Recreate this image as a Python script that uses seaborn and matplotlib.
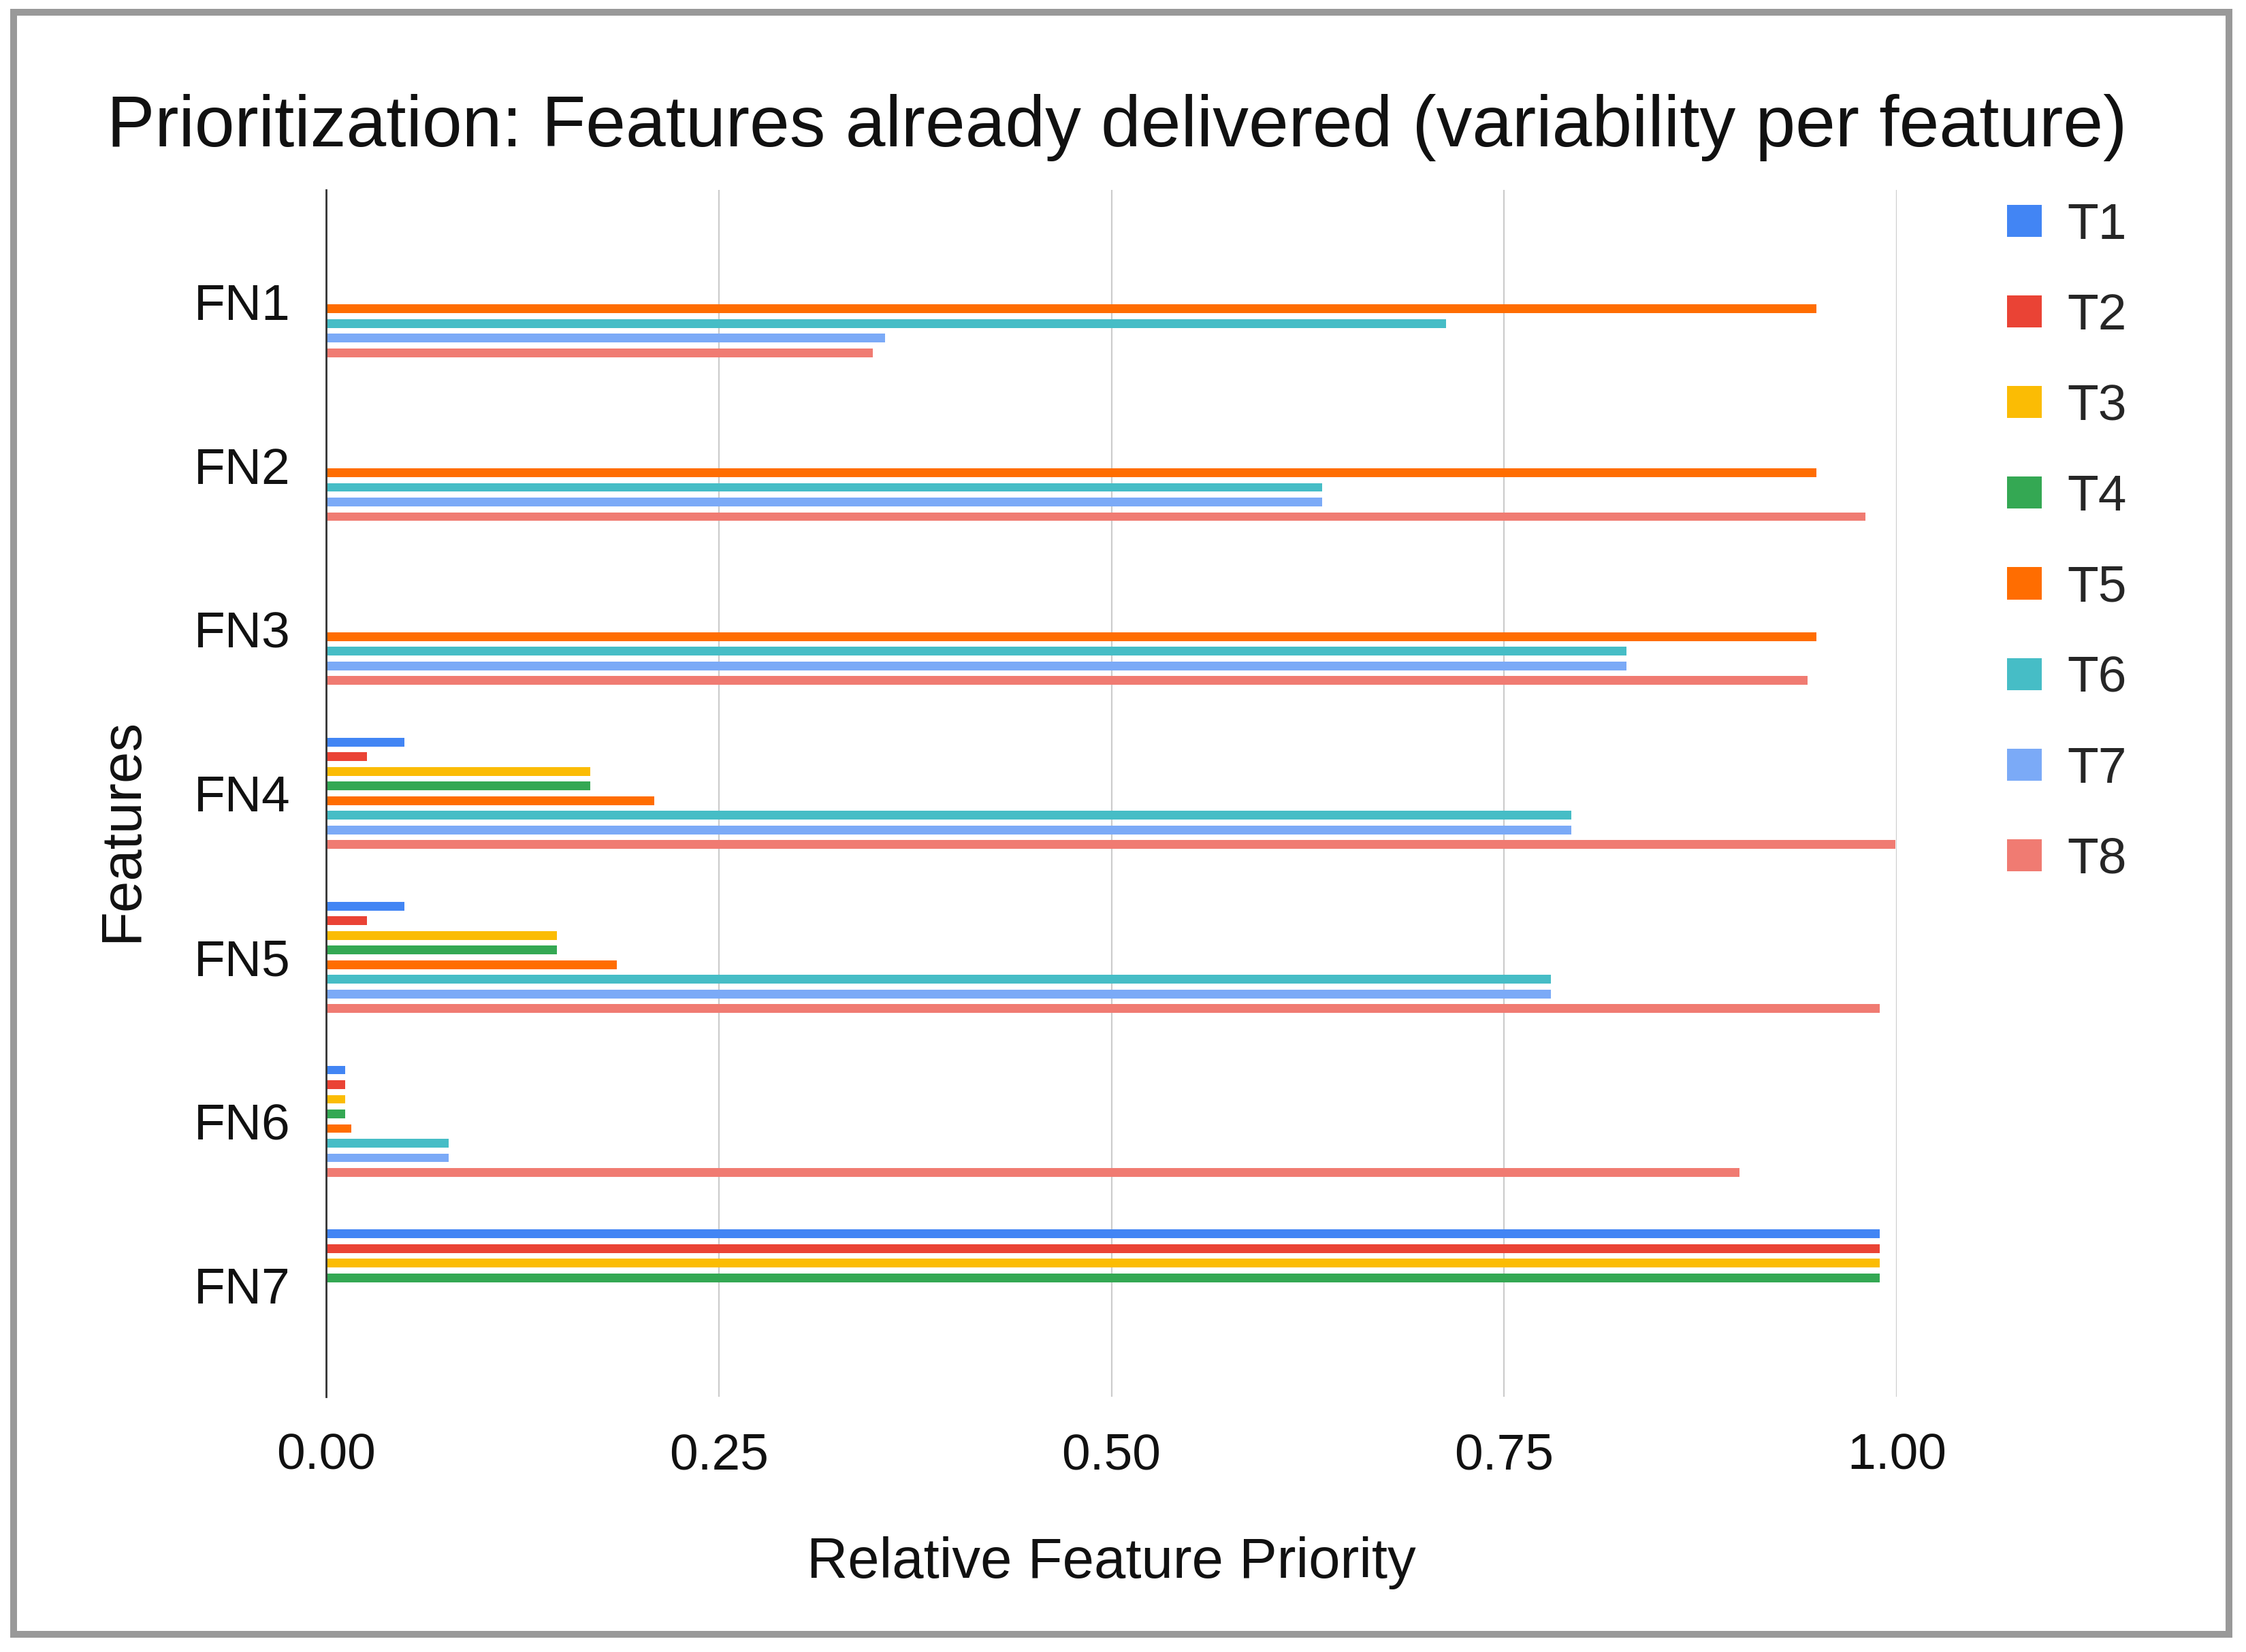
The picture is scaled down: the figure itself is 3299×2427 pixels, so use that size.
import numpy as np
import pandas as pd
import matplotlib
matplotlib.use('Agg')
import matplotlib.pyplot as plt
import seaborn as sns
from matplotlib.patches import Rectangle

nan = np.nan

# Data (empty bars = no value)
features = ['FN1', 'FN2', 'FN3', 'FN4', 'FN5', 'FN6', 'FN7']
teams = ['T1', 'T2', 'T3', 'T4', 'T5', 'T6', 'T7', 'T8']
t1 = [nan, nan, nan, 0.050, 0.050, 0.012, 0.989]
t2 = [nan, nan, nan, 0.026, 0.026, 0.012, 0.989]
t3 = [nan, nan, nan, 0.168, 0.147, 0.012, 0.989]
t4 = [nan, nan, nan, 0.168, 0.147, 0.012, 0.989]
t5 = [0.949, 0.949, 0.949, 0.209, 0.185, 0.016, nan]
t6 = [0.713, 0.634, 0.828, 0.793, 0.780, 0.078, nan]
t7 = [0.356, 0.634, 0.828, 0.793, 0.780, 0.078, nan]
t8 = [0.348, 0.980, 0.943, 0.999, 0.989, 0.900, nan]

colors = ['#4285F4', '#EA4335', '#FBBC04', '#34A853',
          '#FF6D01', '#46BDC6', '#7BAAF7', '#F07B72']

series = [t1, t2, t3, t4, t5, t6, t7, t8]
rows = []
for team, vals in zip(teams, series):
    for feat, v in zip(features, vals):
        rows.append({'Feature': feat, 'Team': team, 'Priority': v})
df = pd.DataFrame(rows).dropna()

sns.set_theme(style='white')
plt.rcParams['font.family'] = ['Liberation Sans', 'DejaVu Sans']

W, H = 3299, 2427
fig = plt.figure(figsize=(W / 200, H / 200), dpi=200)
ax = fig.add_axes([479 / W, 1 - 2052 / H, (2786 - 479) / W, (2052 - 279) / H])

sns.barplot(data=df, y='Feature', x='Priority', hue='Team', orient='h',
            order=features, hue_order=teams, palette=colors, saturation=1,
            width=0.714, gap=0.4, errorbar=None, ax=ax, linewidth=0)

ax.set_xlim(0, 1)
ax.set_ylim(6.68, -0.68)
ax.set_xticks([0, 0.25, 0.5, 0.75, 1.0])
ax.set_xticklabels(['0.00', '0.25', '0.50', '0.75', '1.00'])
ax.tick_params(axis='both', length=0, labelsize=27, colors='#111111', pad=19)
ax.grid(axis='x', color='#cccccc', linewidth=0.8)
ax.set_axisbelow(True)
for s in ['top', 'right', 'bottom']:
    ax.spines[s].set_visible(False)
ax.spines['left'].set_color('#333333')
ax.spines['left'].set_linewidth(1.0)

ax.set_xlabel('Relative Feature Priority', fontsize=30, labelpad=30, color='#111111')
ax.set_ylabel('')
fig.text(179 / W, 1 - 1219 / H, 'Features', rotation=90, fontsize=30,
         ha='center', va='center', color='#111111')

fig.text(1641 / W, 1 - 215 / H,
         'Prioritization: Features already delivered (variability per feature)',
         ha='center', va='baseline', fontsize=38, color='#111111')

handles, labels = ax.get_legend_handles_labels()
ax.legend(handles, labels, loc='upper left', bbox_to_anchor=(2948 / W, 1 - 297 / H),
          bbox_transform=fig.transFigure, frameon=False, fontsize=27,
          labelspacing=0.855, handlelength=0.68, handleheight=0.59,
          handletextpad=0.5, borderpad=0, borderaxespad=0)

fig.patches.append(Rectangle((20 / W, 1 - 2401 / H), (3274 - 20) / W, (2401 - 18) / H,
                             transform=fig.transFigure, fill=False,
                             edgecolor='#999999', linewidth=3.6))

fig.savefig('out.png', dpi=200)
